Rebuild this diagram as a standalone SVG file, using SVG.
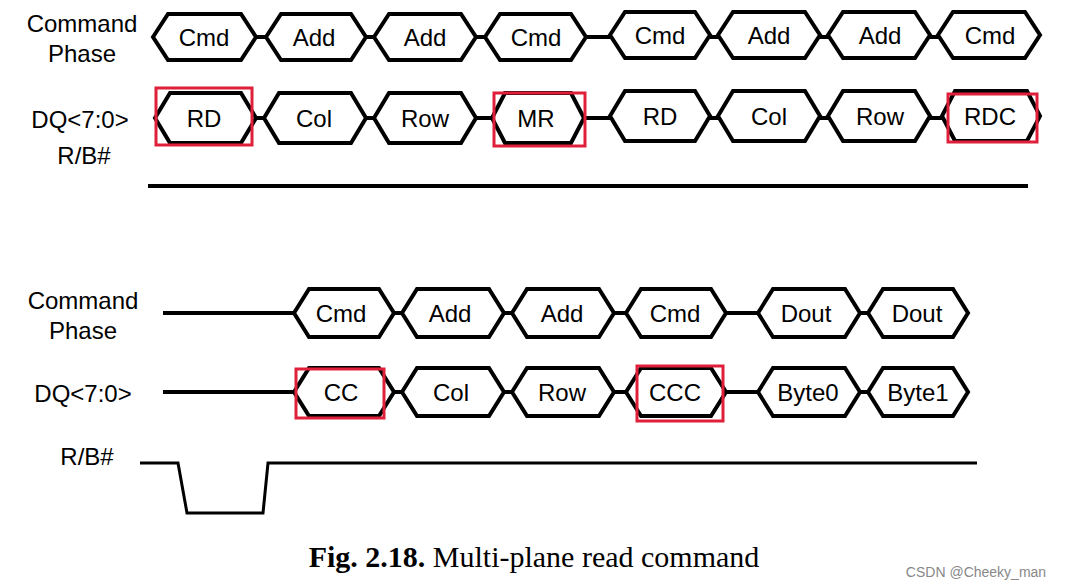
<svg xmlns="http://www.w3.org/2000/svg" width="1066" height="588" viewBox="0 0 1066 588">
<style>
.h{fill:#fff;stroke:#000;stroke-width:4;stroke-linejoin:miter}
.w{fill:none;stroke:#000;stroke-width:4}
.r{fill:none;stroke:#e0203a;stroke-width:3}
text{font-family:"Liberation Sans",Arial,sans-serif;font-size:24px;text-anchor:middle;dominant-baseline:central}
.c{font-family:"Liberation Serif","Times New Roman",serif;font-size:30px;dominant-baseline:auto}
</style>
<g id="labels">
<text x="82" y="23">Command</text><text x="82" y="53">Phase</text>
<text x="80" y="119">DQ&lt;7:0&gt;</text><text x="84" y="155">R/B#</text>
<text x="83" y="300">Command</text><text x="83" y="330">Phase</text>
<text x="83" y="393">DQ&lt;7:0&gt;</text><text x="87" y="456">R/B#</text>
</g>
<g id="connectors">
<path class="w" d="M256 37H266M366 37H374M476 37H485M586 37H610M710 37H718M820 37H828M930 37H938"/>
<path class="w" d="M256 118H264M366 118H374M476 118H492M586 118H610M710 118H718M820 118H828M930 118H942"/>
<path class="w" d="M148 186H1028"/>
<path class="w" d="M163 313H294M394 313H402M504 313H512M614 313H626M726 313H758M860 313H868"/>
<path class="w" d="M163 392H294M394 392H402M504 392H512M614 392H626M726 392H758M860 392H868"/>
<path class="w" style="stroke-width:3" d="M140 463H178L187 513H263L268 463H977"/>
</g>
<g id="row1">
<g id="c1"><path class="h" d="M153 37L168 14H241L256 37L241 60H168Z"/><text x="204" y="37">Cmd</text></g>
<g id="c2"><path class="h" d="M266 37L281 14H351L366 37L351 60H281Z"/><text x="314" y="37">Add</text></g>
<g id="c3"><path class="h" d="M374 37L389 14H461L476 37L461 60H389Z"/><text x="425" y="37">Add</text></g>
<g id="c4"><path class="h" d="M485 37L500 14H571L586 37L571 60H500Z"/><text x="536" y="37">Cmd</text></g>
<g id="c5"><path class="h" d="M610 35L625 12H695L710 35L695 58H625Z"/><text x="660" y="35">Cmd</text></g>
<g id="c6"><path class="h" d="M718 35L733 12H805L820 35L805 58H733Z"/><text x="769" y="35">Add</text></g>
<g id="c7"><path class="h" d="M828 35L843 12H915L930 35L915 58H843Z"/><text x="880" y="35">Add</text></g>
<g id="c8"><path class="h" d="M938 35L953 12H1025L1040 35L1025 58H953Z"/><text x="990" y="35">Cmd</text></g>
</g>
<g id="row2">
<g id="d1"><path class="h" d="M155 118L170 93H241L256 118L241 143H170Z"/><text x="204" y="118">RD</text></g>
<g id="d2"><path class="h" d="M264 118L279 93H351L366 118L351 143H279Z"/><text x="314" y="118">Col</text></g>
<g id="d3"><path class="h" d="M374 118L389 93H461L476 118L461 143H389Z"/><text x="425" y="118">Row</text></g>
<g id="d4"><path class="h" d="M492 118L505 93H571L584 118L571 143H505Z"/><text x="536" y="118">MR</text></g>
<g id="d5"><path class="h" d="M610 116L625 91H695L710 116L695 141H625Z"/><text x="660" y="116">RD</text></g>
<g id="d6"><path class="h" d="M718 116L733 91H805L820 116L805 141H733Z"/><text x="769" y="116">Col</text></g>
<g id="d7"><path class="h" d="M828 116L843 91H915L930 116L915 141H843Z"/><text x="880" y="116">Row</text></g>
<g id="d8"><path class="h" d="M942 116L955 91H1027L1040 116L1027 141H955Z"/><text x="990" y="116">RDC</text></g>
<rect class="r" x="156" y="88" width="96" height="57"/>
<rect class="r" x="494" y="93" width="91" height="53"/>
<rect class="r" x="948" y="94" width="89" height="48"/>
</g>
<g id="row3">
<g id="e1"><path class="h" d="M294 313L309 289H379L394 313L379 337H309Z"/><text x="341" y="313">Cmd</text></g>
<g id="e2"><path class="h" d="M402 313L417 289H489L504 313L489 337H417Z"/><text x="450" y="313">Add</text></g>
<g id="e3"><path class="h" d="M512 313L527 289H599L614 313L599 337H527Z"/><text x="562" y="313">Add</text></g>
<g id="e4"><path class="h" d="M626 313L641 289H711L726 313L711 337H641Z"/><text x="675" y="313">Cmd</text></g>
<g id="e5"><path class="h" d="M758 313L773 289H845L860 313L845 337H773Z"/><text x="806" y="313">Dout</text></g>
<g id="e6"><path class="h" d="M868 313L883 289H953L968 313L953 337H883Z"/><text x="917" y="313">Dout</text></g>
</g>
<g id="row4">
<g id="f1"><path class="h" d="M294 392L309 368H379L394 392L379 416H309Z"/><text x="341" y="392">CC</text></g>
<g id="f2"><path class="h" d="M402 392L417 368H489L504 392L489 416H417Z"/><text x="451" y="392">Col</text></g>
<g id="f3"><path class="h" d="M512 392L527 368H599L614 392L599 416H527Z"/><text x="562" y="392">Row</text></g>
<g id="f4"><path class="h" d="M626 392L641 368H711L726 392L711 416H641Z"/><text x="675" y="392">CCC</text></g>
<g id="f5"><path class="h" d="M758 392L773 368H845L860 392L845 416H773Z"/><text x="808" y="392">Byte0</text></g>
<g id="f6"><path class="h" d="M868 392L883 368H953L968 392L953 416H883Z"/><text x="918" y="392">Byte1</text></g>
<rect class="r" x="296" y="369" width="88" height="49"/>
<rect class="r" x="637" y="366" width="86" height="55"/>
</g>
<text class="c" x="534" y="567"><tspan font-weight="bold">Fig. 2.18.</tspan> Multi-plane read command</text>
<text x="976" y="572" style="font-size:14px;fill:#888">CSDN @Cheeky_man</text>
</svg>
